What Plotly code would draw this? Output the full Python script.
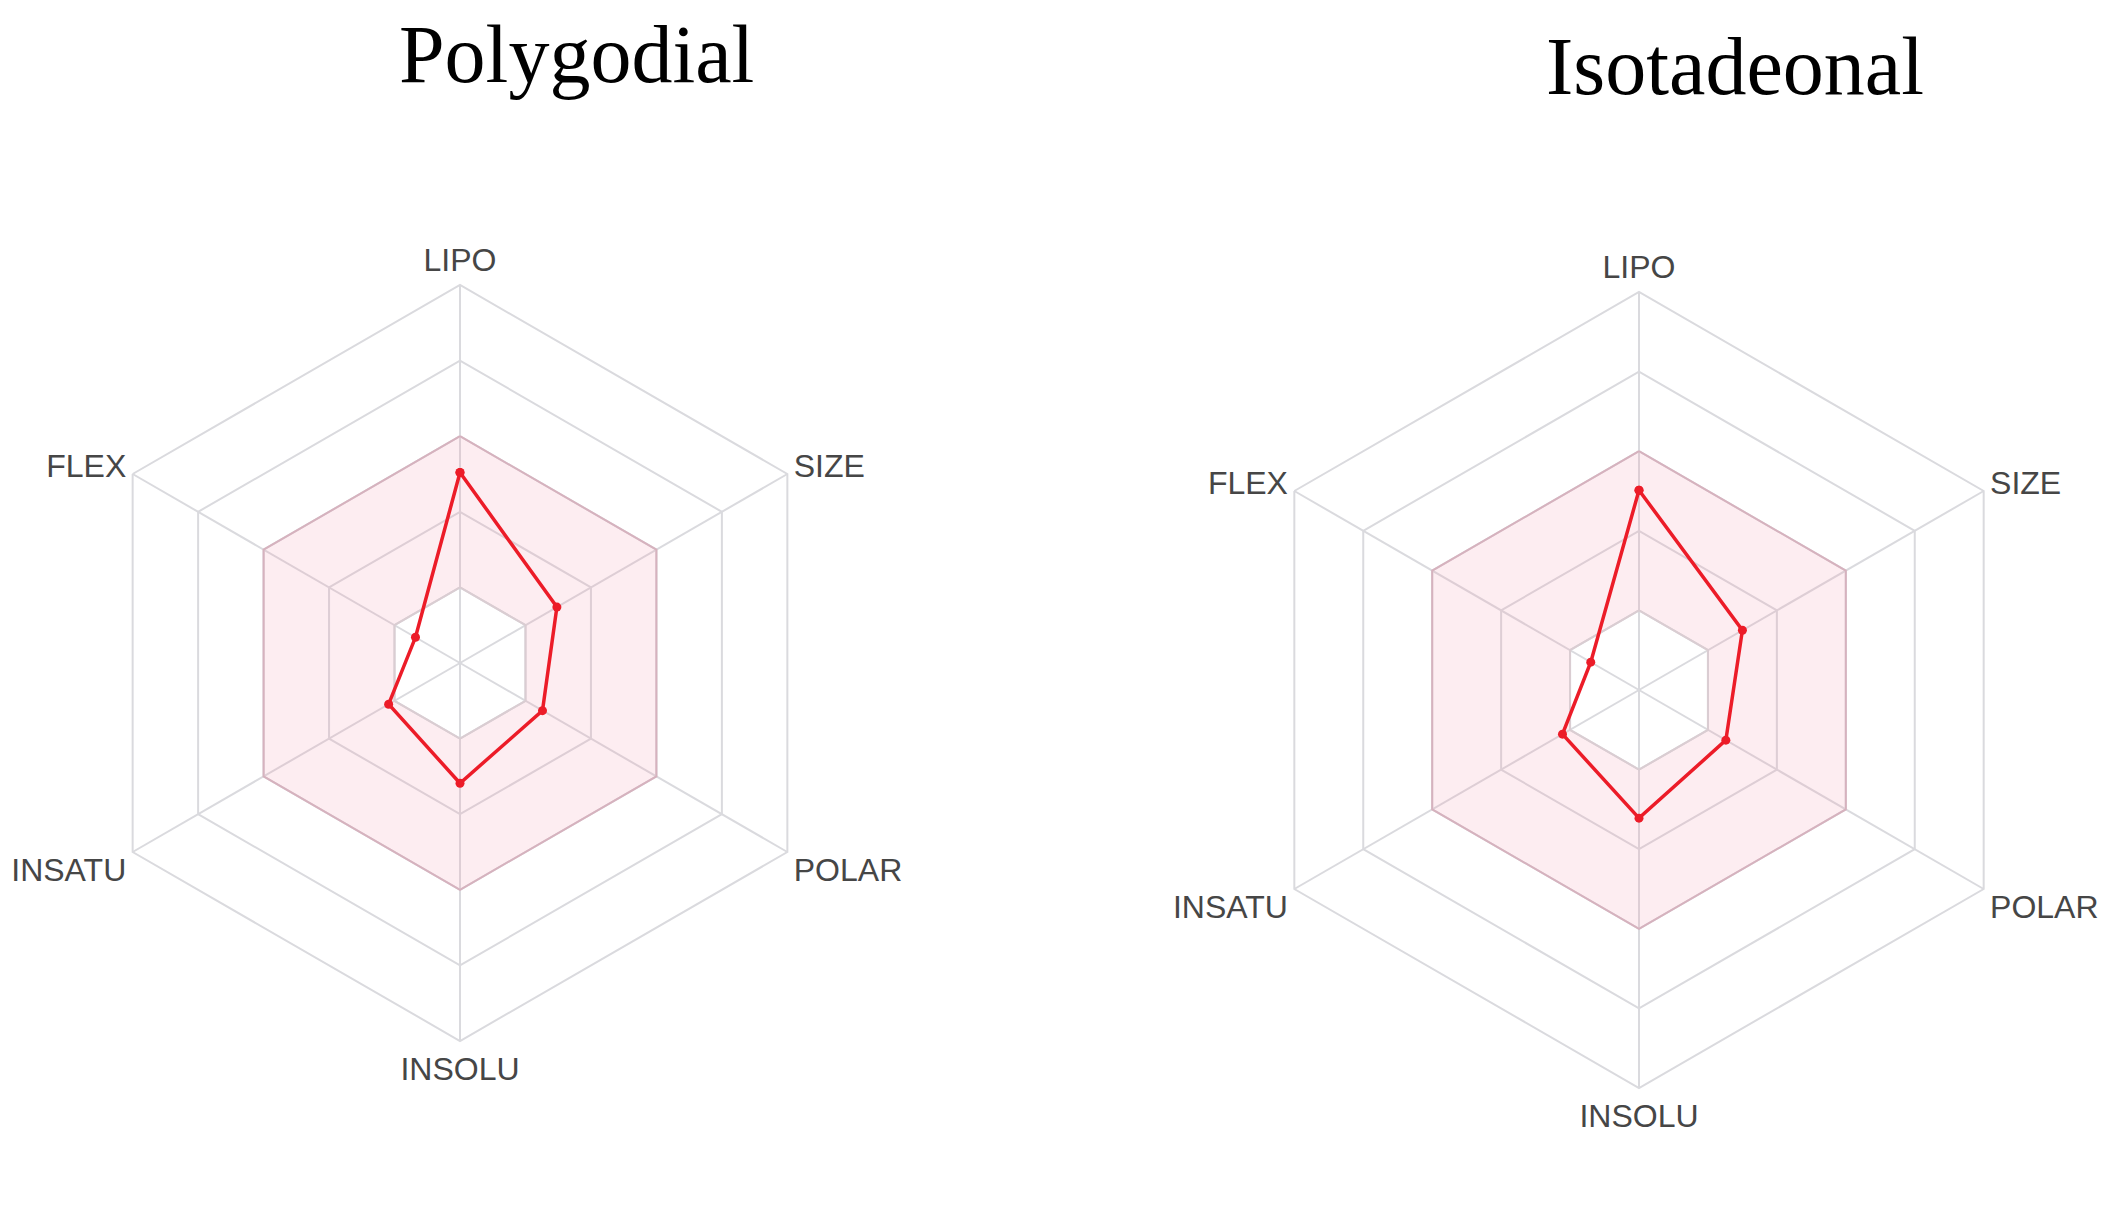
import plotly.graph_objects as go

W, H = 2111, 1211

categories = ["LIPO", "SIZE", "POLAR", "INSOLU", "INSATU", "FLEX"]
polygodial = [2.52, 1.48, 1.26, 1.59, 1.09, 0.68]
isotadeonal = [2.51, 1.50, 1.26, 1.61, 1.11, 0.70]
titles = ["Polygodial", "Isotadeonal"]
band_outer = 3
band_inner = 1
radial_max = 5
grid_levels = [1, 2, 3, 4]

# chart placement (pixels)
centers = [(452, 655), (1631, 682)]
radii = [378, 398]

fig = go.Figure()

def closed(vals):
    return list(vals) + [vals[0]]

theta_fwd = closed(categories)
theta_rev = [categories[0]] + categories[::-1]

series = [polygodial, isotadeonal]
for i, vals in enumerate(series):
    sub = "polar" if i == 0 else "polar2"
    # pink optimal band (ring 1 to ring 3)
    fig.add_trace(go.Scatterpolar(
        r=[band_outer] * 7 + [band_inner] * 7,
        theta=theta_fwd + theta_rev,
        mode="lines", fill="toself",
        fillcolor="rgba(240,140,170,0.16)",
        line=dict(width=0, color="rgba(0,0,0,0)"),
        hoverinfo="skip", showlegend=False, subplot=sub))
    fig.add_trace(go.Scatterpolar(
        r=[band_outer] * 7, theta=theta_fwd, mode="lines",
        line=dict(width=2, color="rgb(214,178,190)"),
        hoverinfo="skip", showlegend=False, subplot=sub))
    fig.add_trace(go.Scatterpolar(
        r=[band_inner] * 7, theta=theta_fwd, mode="lines",
        line=dict(width=2, color="rgb(218,205,210)"),
        hoverinfo="skip", showlegend=False, subplot=sub))
    fig.add_trace(go.Scatterpolar(
        r=closed(vals), theta=theta_fwd, mode="lines+markers",
        line=dict(width=3.5, color="rgb(236,28,40)"),
        marker=dict(size=9, color="rgb(236,28,40)"),
        showlegend=False, name=titles[i], subplot=sub))

def polar_layout(cx, cy, R):
    return dict(
        domain=dict(x=[(cx - R) / W, (cx + R) / W],
                    y=[(H - cy - R) / H, (H - cy + R) / H]),
        gridshape="linear",
        bgcolor="rgba(0,0,0,0)",
        radialaxis=dict(range=[0, radial_max], tickvals=grid_levels,
                        showticklabels=False, ticks="", showline=False,
                        gridcolor="rgb(218,218,222)", gridwidth=2),
        angularaxis=dict(direction="clockwise", rotation=90,
                         categoryorder="array", categoryarray=categories,
                         showline=True, linecolor="rgb(218,218,222)", linewidth=2,
                         gridcolor="rgb(218,218,222)", gridwidth=2, ticks="",
                         tickfont=dict(family="Liberation Sans, Arial", size=32,
                                       color="rgb(70,70,70)")),
    )

annotations = [
    dict(text=titles[0], x=568 / W, y=1 - 47 / H, xref="paper", yref="paper",
         showarrow=False, xanchor="center", yanchor="middle",
         font=dict(family="Liberation Serif, Times New Roman", size=82, color="black")),
    dict(text=titles[1], x=1727 / W, y=1 - 58 / H, xref="paper", yref="paper",
         showarrow=False, xanchor="center", yanchor="middle",
         font=dict(family="Liberation Serif, Times New Roman", size=82, color="black")),
]

fig.update_layout(
    width=W, height=H,
    margin=dict(l=0, r=0, t=0, b=0),
    paper_bgcolor="white", plot_bgcolor="white",
    polar=polar_layout(centers[0][0], centers[0][1], radii[0]),
    polar2=polar_layout(centers[1][0], centers[1][1], radii[1]),
    annotations=annotations,
    showlegend=False,
)

fig.write_html("out.html")
